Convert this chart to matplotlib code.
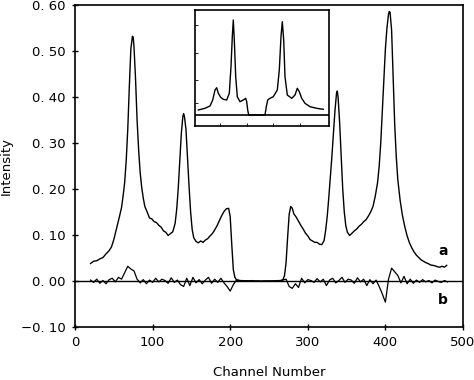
import numpy as np
import matplotlib
matplotlib.use("Agg")
import matplotlib.pyplot as plt

# spectrum a (channel, intensity)
a_channel = [20, 24, 28, 32, 36, 40, 44, 47, 50, 54, 57, 60, 62, 64, 66, 68, 70, 72, 74, 75,
             76, 78, 80, 82, 84, 86, 88, 90, 93, 96, 99, 102, 105, 108, 111, 114, 117, 120, 123, 126,
             129, 131, 133, 135, 137, 139, 140, 141, 143, 145, 147, 149, 151, 153, 156, 159, 162, 165, 168, 171,
             174, 177, 180, 183, 186, 189, 192, 195, 198, 200, 202, 204, 206, 208, 212, 230, 250, 265, 268, 270,
             272, 274, 276, 278, 280, 282, 285, 288, 291, 294, 297, 300, 303, 306, 309, 312, 315, 318, 321, 323,
             325, 327, 329, 331, 333, 335, 337, 338, 339, 341, 343, 345, 347, 349, 351, 354, 357, 360, 363, 366,
             369, 372, 375, 378, 381, 384, 387, 390, 392, 394, 396, 398, 400, 402, 404, 405, 406, 408, 410, 412,
             414, 416, 419, 422, 425, 428, 431, 434, 437, 440, 443, 446, 449, 452, 455, 458, 461, 464, 467, 470,
             473, 476, 479]
a_value = [0.038, 0.043, 0.044, 0.048, 0.051, 0.059, 0.066, 0.074, 0.090, 0.117, 0.138, 0.160, 0.185, 0.214, 0.262, 0.330, 0.422, 0.505, 0.532, 0.530,
           0.510, 0.440, 0.350, 0.285, 0.235, 0.203, 0.180, 0.162, 0.150, 0.137, 0.135, 0.129, 0.127, 0.121, 0.117, 0.109, 0.106, 0.099, 0.103, 0.107,
           0.125, 0.155, 0.200, 0.258, 0.320, 0.358, 0.364, 0.358, 0.330, 0.268, 0.205, 0.150, 0.112, 0.094, 0.086, 0.083, 0.087, 0.084, 0.089, 0.092,
           0.098, 0.103, 0.111, 0.120, 0.131, 0.142, 0.151, 0.157, 0.158, 0.140, 0.080, 0.025, 0.008, 0.003, 0.001, 0.000, 0.000, 0.001, 0.003, 0.012,
           0.040, 0.095, 0.145, 0.162, 0.158, 0.146, 0.139, 0.130, 0.121, 0.113, 0.104, 0.098, 0.090, 0.087, 0.084, 0.084, 0.080, 0.079, 0.088, 0.110,
           0.140, 0.180, 0.225, 0.270, 0.320, 0.370, 0.408, 0.413, 0.400, 0.345, 0.270, 0.200, 0.150, 0.120, 0.106, 0.099, 0.104, 0.109, 0.113, 0.119,
           0.123, 0.129, 0.133, 0.141, 0.150, 0.162, 0.185, 0.215, 0.250, 0.300, 0.370, 0.440, 0.505, 0.550, 0.580, 0.586, 0.584, 0.545, 0.440, 0.340,
           0.270, 0.220, 0.175, 0.142, 0.118, 0.098, 0.083, 0.072, 0.063, 0.056, 0.051, 0.046, 0.043, 0.040, 0.038, 0.035, 0.034, 0.033, 0.031, 0.030,
           0.032, 0.030, 0.034]

# residual b, every 4 channels from 20 to 480
b_channel = np.arange(20, 481, 4)
b_value = [0.002, -0.003, 0.004, -0.005, 0.001, -0.006, 0.003, 0.006, -0.002, 0.008, 0.004,
           0.018, 0.032, 0.026, 0.022, 0.004, -0.004,
           0.003, -0.006, 0.002, -0.003, 0.006, -0.002, 0.004, 0.001, -0.005, 0.007, -0.003, 0.002, -0.008,
           -0.012, 0.006, -0.010, 0.008, -0.004, 0.003, -0.006, 0.002, 0.008, -0.005, 0.004, -0.003, 0.006, -0.004, -0.012,
           -0.022, -0.008, 0.002, 0.001,
           0.0, 0.0, 0.0, 0.001, 0.0, 0.0, -0.001, 0.0, 0.0, 0.0, 0.0, 0.001, 0.0,
           0.002, 0.004, -0.012, -0.016, -0.006, -0.014, 0.006, -0.004, 0.003,
           0.001, -0.003, 0.005, -0.002, 0.004, -0.010, 0.002, 0.006, -0.004, 0.001, 0.008,
           -0.003, 0.004, 0.002, -0.005, 0.007, -0.002, 0.004, -0.010, 0.003, -0.006, 0.002,
           -0.012, -0.028, -0.046, 0.004, 0.028, 0.020, 0.012, -0.004, 0.010, -0.006,
           0.004, -0.005, 0.002, -0.003, 0.003, -0.002, 0.001, -0.004, 0.002, -0.001, -0.003, 0.001, -0.002]

# inset spectrum (arbitrary units)
inset_x = [3.3, 10, 15, 17.7, 20, 21.7, 23.3, 25.7, 28.3, 31.7, 34.3, 36, 37.3, 38.3, 39.3, 40.7, 42.3, 45,
           48.3, 50.7, 51.7, 52.7, 53.7, 70, 71.3, 72.7, 75, 78.3, 82.3, 84.3, 86, 87.3, 88.7, 90, 92.3,
           96.7, 100, 102.3, 104.3, 106.7, 110, 115, 121.7, 128.3]
inset_y = [0.05, 0.067, 0.09, 0.15, 0.25, 0.273, 0.217, 0.177, 0.157, 0.15, 0.217, 0.483, 0.783, 0.95, 0.75, 0.383, 0.183, 0.133,
           0.15, 0.167, 0.133, 0.05, 0.0, 0.0, 0.083, 0.15, 0.167, 0.183, 0.25, 0.45, 0.783, 0.933, 0.75, 0.383, 0.2,
           0.167, 0.2, 0.267, 0.233, 0.167, 0.117, 0.083, 0.067, 0.057]

x_ticks = [0, 100, 200, 300, 400, 500]
y_ticks = [-0.10, 0.00, 0.10, 0.20, 0.30, 0.40, 0.50, 0.60]
y_ticklabels = ["\u22120. 10", "0. 00", "0. 10", "0. 20", "0. 30", "0. 40", "0. 50", "0. 60"]

fig = plt.figure(figsize=(4.74, 3.8), dpi=100)
ax = fig.add_axes([75 / 474, 53 / 380, 388 / 474, 322 / 380])

ax.plot(a_channel, a_value, color="black", lw=1.0)
ax.plot(b_channel, b_value, color="black", lw=0.9)
ax.axhline(0, color="black", lw=1.0)

ax.set_xlim(0, 500)
ax.set_ylim(-0.10, 0.60)
ax.set_xticks(x_ticks)
ax.set_yticks(y_ticks)
ax.set_yticklabels(y_ticklabels)
ax.tick_params(direction="inout", length=5, width=1, labelsize=9.5, pad=4)
for s in ax.spines.values():
    s.set_linewidth(1.2)

ax.set_xlabel("Channel Number", fontsize=9.5)
ax.xaxis.set_label_coords(0.5, -0.121)
ax.set_ylabel("Intensity", fontsize=9.5)
ax.yaxis.set_label_coords(-0.16, 0.5)

ax.text(474, 0.065, "a", fontsize=10, fontweight="bold", ha="center", va="center")
ax.text(474, -0.041, "b", fontsize=10, fontweight="bold", ha="center", va="center")

# inset
ins = fig.add_axes([195 / 474, 254 / 380, 134 / 474, 116 / 380])
ins.plot(inset_x, inset_y, color="black", lw=1.0)
ins.axhline(0, color="black", lw=1.2)
ins.set_xlim(0, 134)
ins.set_ylim(-0.11, 1.05)
ins.set_xticks([25, 52, 78, 105])
ins.set_yticks([0.12, 0.35, 0.62, 0.9])
ins.tick_params(direction="in", length=2, width=0.6, labelbottom=False, labelleft=False)
for s in ins.spines.values():
    s.set_linewidth(1.2)

fig.savefig("out.png", dpi=100)
